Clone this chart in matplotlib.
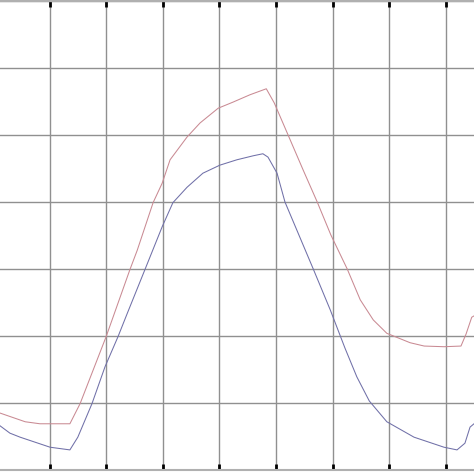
import matplotlib
matplotlib.use("Agg")
import matplotlib.pyplot as plt

# traces, in grid divisions
red_x = [-0.875, -0.43, -0.17, 0.2, 0.36, 0.42, 0.54, 1.0, 1.42, 1.55, 1.83, 1.99, 2.13,
         2.43, 2.66, 2.98, 3.24, 3.54, 3.83, 3.97, 4.20, 4.48, 4.73, 4.97, 5.26, 5.49,
         5.72, 5.96, 6.37, 6.62, 6.97, 7.27, 7.36, 7.46, 7.5]
red_y = [0.85, 0.72, 0.69, 0.69, 0.69, 0.79, 0.99, 1.99, 2.99, 3.28, 3.99, 4.28, 4.63,
         4.97, 5.18, 5.40, 5.49, 5.60, 5.69, 5.48, 5.03, 4.48, 4.0, 3.51, 3.0, 2.54,
         2.24, 2.04, 1.90, 1.85, 1.84, 1.85, 2.03, 2.28, 2.30]

blue_x = [-0.875, -0.70, -0.52, 0.01, 0.36, 0.50, 0.75, 0.98, 1.21, 1.37, 1.69, 1.99,
          2.18, 2.43, 2.71, 3.01, 3.31, 3.60, 3.77, 3.86, 4.02, 4.16, 4.39, 4.66,
          4.96, 5.22, 5.43, 5.65, 5.96, 6.44, 6.97, 7.20, 7.34, 7.43, 7.5]
blue_y = [0.66, 0.55, 0.49, 0.34, 0.30, 0.49, 0.99, 1.54, 1.99, 2.33, 3.0, 3.63,
          3.99, 4.22, 4.43, 4.55, 4.63, 4.69, 4.72, 4.67, 4.43, 4.0, 3.54, 3.0,
          2.39, 1.82, 1.39, 1.03, 0.72, 0.49, 0.34, 0.30, 0.40, 0.64, 0.69]

fig = plt.figure(figsize=(4.74, 4.74), dpi=100)
ax = fig.add_axes([0, 4 / 474, 1, 469 / 474])

ax.plot(red_x, red_y, color="#c98a93", lw=0.75)
ax.plot(blue_x, blue_y, color="#7070a8", lw=0.75)

ax.set_xlim(-0.875, 7.5)
ax.set_ylim(0, 7)
ax.set_xticks(range(0, 8))
ax.set_yticks(range(0, 8))
ax.grid(True, color="#909090", lw=1.0)
ax.set_axisbelow(True)
ax.tick_params(axis="x", which="both", direction="in", top=True, bottom=True,
               length=4, width=2, color="black", labelbottom=False)
ax.tick_params(axis="y", left=False, right=False, labelleft=False)
for side in ["top", "bottom"]:
    ax.spines[side].set_color("#b0b0b0")
    ax.spines[side].set_linewidth(1.5)
for side in ["left", "right"]:
    ax.spines[side].set_visible(False)

fig.savefig("out.png", dpi=100)
